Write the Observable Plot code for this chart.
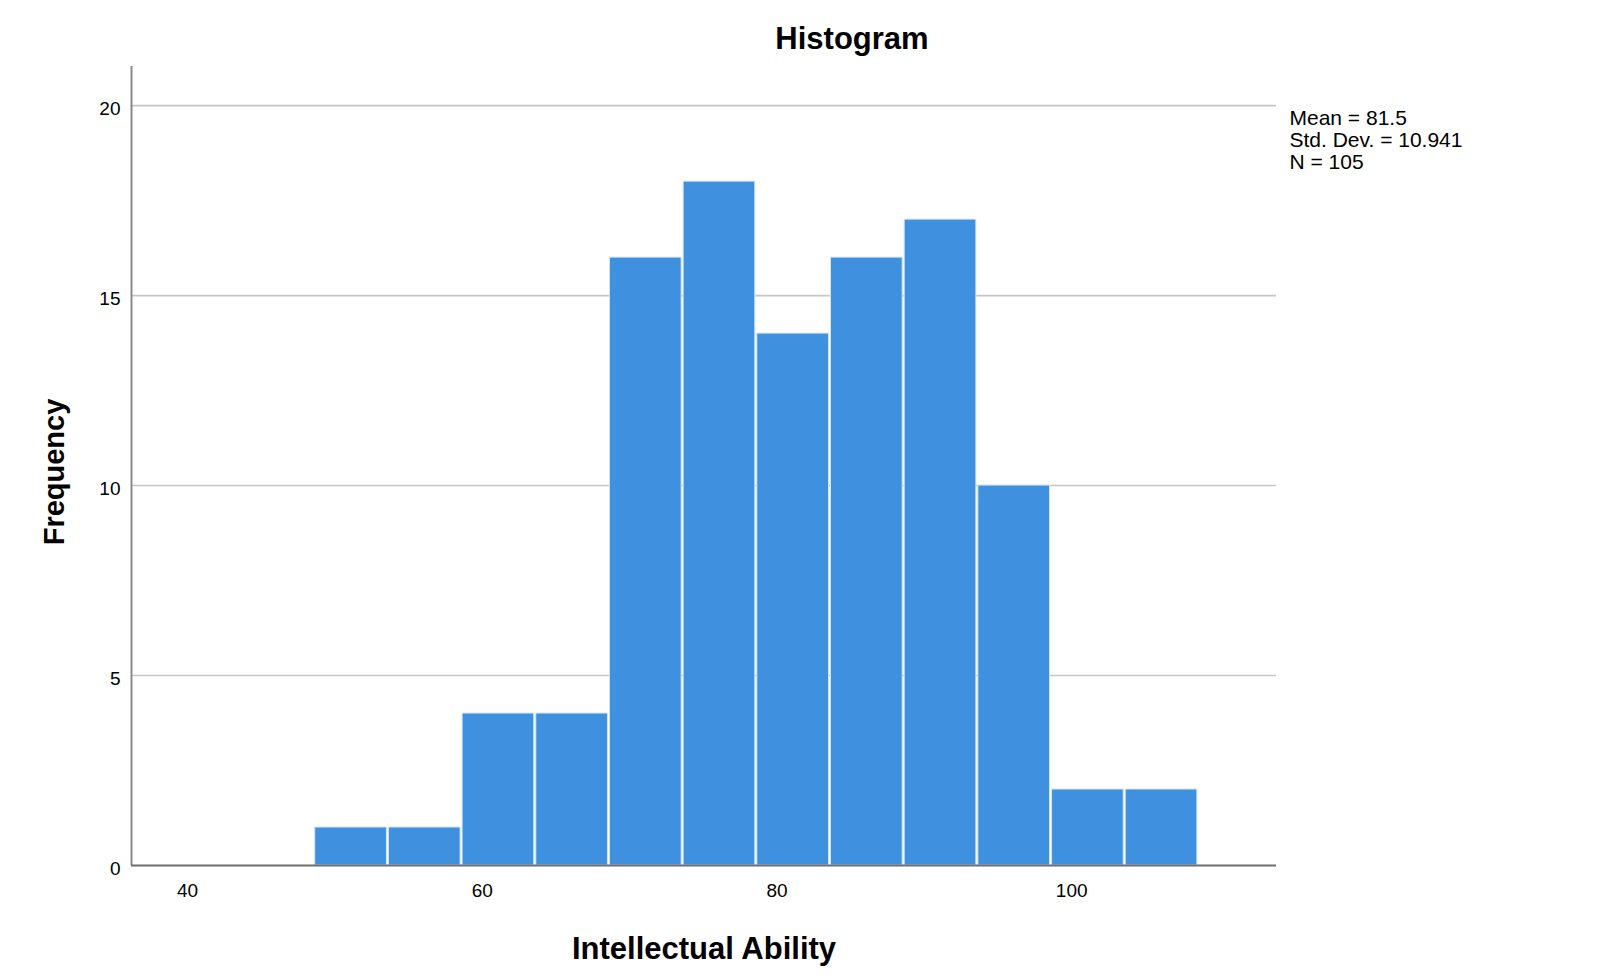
<!DOCTYPE html>
<html>
<head>
<meta charset="utf-8">
<script src="https://cdn.jsdelivr.net/npm/d3@7"></script>
<script src="https://cdn.jsdelivr.net/npm/@observablehq/plot@0.6"></script>
<style>
  html, body { margin: 0; padding: 0; background: #fff; }
  #wrap { width: 1614px; position: relative; font-family: "Liberation Sans", Arial, sans-serif; }
  #title { height: 60px; position: relative; }
  #title span { position: absolute; left: 852px; top: 21px; transform: translateX(-50%); font-size: 31px; font-weight: bold; color: #000; white-space: nowrap; }
  #ylab { position: absolute; left: 54px; top: 472px; transform: translate(-50%, -50%) rotate(-90deg); font-size: 29px; font-weight: bold; color: #000; white-space: nowrap; line-height: 1; }
  svg { display: block; }
</style>
</head>
<body>
<div id="wrap">
  <div id="title"><span>Histogram</span></div>
  <div id="chart"></div>
  <div id="ylab"></div>
</div>
<script>
// Histogram bins (Intellectual Ability) and their frequencies
const binLower = [48.6, 53.6, 58.6, 63.6, 68.6, 73.6, 78.6, 83.6, 88.6, 93.6, 98.6, 103.6];
const binUpper = [53.6, 58.6, 63.6, 68.6, 73.6, 78.6, 83.6, 88.6, 93.6, 98.6, 103.6, 108.6];
const frequency = [1, 1, 4, 4, 16, 18, 14, 16, 17, 10, 2, 2];
const xTicks = [40, 60, 80, 100];
const yTicks = [0, 5, 10, 15, 20];
const statsLines = ["Mean = 81.5", "Std. Dev. = 10.941", "N = 105"];
const xTitle = "Intellectual Ability";
const yTitle = "Frequency";

document.getElementById("ylab").textContent = yTitle;

const bins = frequency.map((f, i) => ({x1: binLower[i], x2: binUpper[i], y: f}));

const plot = Plot.plot({
  width: 1614,
  height: 920,
  marginLeft: 131,
  marginRight: 338,
  marginTop: 6,
  marginBottom: 115,
  style: {fontFamily: '"Liberation Sans", Arial, sans-serif', background: "#fff", color: "#000"},
  x: {domain: [36.2, 113.9]},
  y: {domain: [0, 21.03]},
  marks: [
    Plot.gridY(yTicks.filter(d => d > 0), {stroke: "#c6c6c6", strokeOpacity: 1, strokeWidth: 1.6}),
    Plot.rectY(bins, {x1: "x1", x2: "x2", y: "y", fill: "#3f91df", stroke: "#d3e5f7", strokeWidth: 1, insetLeft: 1, insetRight: 1}),
    Plot.ruleX([36.2], {stroke: "#8a8a8a", strokeWidth: 2}),
    Plot.ruleY([0], {stroke: "#6e6e6e", strokeWidth: 2}),
    Plot.axisX({ticks: xTicks, tickSize: 0, tickPadding: 18, fontSize: 19, label: null}),
    Plot.axisY({ticks: yTicks, tickSize: 0, tickPadding: 11, fontSize: 19, label: null, dy: 3}),
    Plot.text([xTitle], {frameAnchor: "bottom", dy: 93, fontSize: 31, fontWeight: "bold", fill: "#000"}),
    Plot.text([statsLines.join("\n")], {frameAnchor: "top-right", dx: 13, dy: 43, textAnchor: "start", lineAnchor: "top", lineHeight: 1.05, fontSize: 21, fill: "#000"})
  ]
});
document.getElementById("chart").appendChild(plot);
</script>
</body>
</html>
